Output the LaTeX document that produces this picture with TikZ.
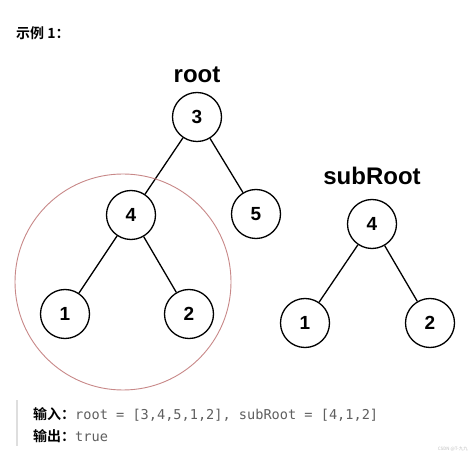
\documentclass[tikz,border=0pt]{standalone}
\usepackage{fontspec}
\setmainfont{Liberation Sans}
\newfontfamily\cjkb{Noto Sans CJK SC}[BoldFont={* Bold}]
\newfontfamily\monof{DejaVu Sans Mono}
\definecolor{circred}{RGB}{200,136,136}
\definecolor{codegrey}{RGB}{95,95,95}
\definecolor{bargrey}{RGB}{222,222,222}
\definecolor{wmgrey}{RGB}{190,190,190}
\tikzset{
  tnode/.style={circle,draw=black,line width=1.3pt,minimum size=49pt,inner sep=0pt,font=\fontsize{19}{19}\selectfont\bfseries},
  tedge/.style={line width=1.3pt,black},
  tlabel/.style={font=\fontsize{24}{24}\selectfont\bfseries,inner sep=0pt},
  txt/.style={anchor=west,inner sep=0pt}
}
\begin{document}
\begin{tikzpicture}[x=1pt,y=-1pt]
\useasboundingbox[fill=white] (0,0) rectangle (474,454);
\node[txt,font=\cjkb\bfseries\fontsize{14}{14}\selectfont] (title) at (16,33) {示例 1：};
\node[tlabel] (rootlbl) at (197,75) {root};
\node[tlabel] (sublbl) at (372,176) {subRoot};
\node[tnode] (r3) at (197,117) {3};
\node[tnode] (r4) at (131,215) {4};
\node[tnode] (r5) at (256,214) {5};
\node[tnode] (r1) at (65,314) {1};
\node[tnode] (r2) at (189,314) {2};
\node[tnode] (s4) at (372,224) {4};
\node[tnode] (s1) at (305,323) {1};
\node[tnode] (s2) at (430,323) {2};
\draw[tedge] (r3) -- (r4);
\draw[tedge] (r3) -- (r5);
\draw[tedge] (r4) -- (r1);
\draw[tedge] (r4) -- (r2);
\draw[tedge] (s4) -- (s1);
\draw[tedge] (s4) -- (s2);
\node[circle,draw=circred,line width=0.9pt,minimum size=216pt,inner sep=0pt] (hl) at (123,282) {};
\coordinate (bartop) at (17,400);
\coordinate (barbot) at (17,446);
\draw[bargrey,line width=2pt] (bartop) -- (barbot);
\node[txt] (in) at (33,414) {\cjkb\bfseries\fontsize{14}{14}\selectfont 输入：\monof\mdseries\fontsize{13.6}{14}\selectfont\color{codegrey}root = [3,4,5,1,2], subRoot = [4,1,2]};
\node[txt] (out) at (33,436) {\cjkb\bfseries\fontsize{14}{14}\selectfont 输出：\monof\mdseries\fontsize{13.6}{14}\selectfont\color{codegrey}true};
\node[anchor=east,inner sep=0pt,text=wmgrey,font=\cjkb\fontsize{4.5}{5}\selectfont] (wm) at (468,449) {CSDN @T-九九};
\end{tikzpicture}
\end{document}
